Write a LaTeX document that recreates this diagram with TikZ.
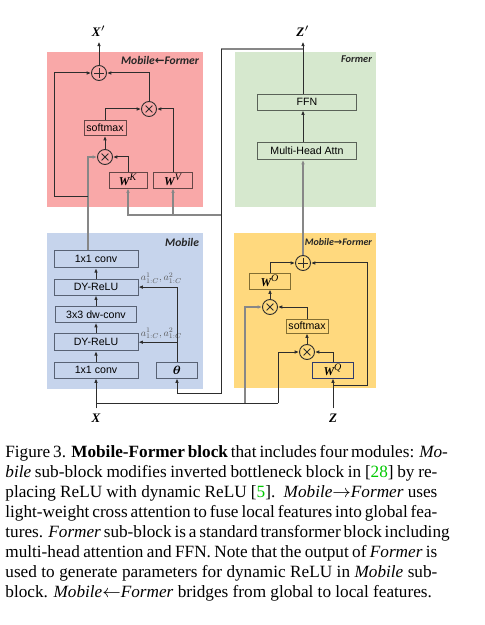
\documentclass[tikz,border=0pt]{standalone}
\usepackage{fontspec}
\usepackage{bm}
\setmainfont{Liberation Serif}
\newfontfamily\boxfont{Liberation Sans}
\newfontfamily\titlefont{Carlito}
\newfontfamily\arrowfont{DejaVu Sans}
\usetikzlibrary{arrows.meta,positioning,fit}
\definecolor{redpanel}{RGB}{249,168,168}
\definecolor{greenpanel}{RGB}{214,232,206}
\definecolor{bluepanel}{RGB}{198,212,236}
\definecolor{yellowpanel}{RGB}{255,217,126}
\definecolor{rededge}{RGB}{100,70,70}
\definecolor{greenedge}{RGB}{90,98,88}
\definecolor{blueedge}{RGB}{88,98,116}
\definecolor{yellowedge}{RGB}{130,110,50}
\definecolor{navyedge}{RGB}{47,58,110}
\definecolor{flowdark}{RGB}{45,45,45}
\definecolor{flowgray}{RGB}{135,135,135}
\definecolor{citegreen}{RGB}{0,200,0}
\newcommand{\opW}[1]{{\bfseries\itshape W}\textsuperscript{\itshape #1}}
\newcommand{\reluparams}{\scalebox{0.5}{\fontsize{10}{12}\selectfont$a^1_{1:C}, a^2_{1:C}$}}
\newcommand{\capline}[1]{\makebox[216pt][s]{#1}}
\tikzset{
  sub panel/.style={
    rectangle, fill=#1, draw=none, inner sep=0pt
  },
  panel title/.style={
    anchor=north east, inner sep=0pt, text=black!85,
    font=\titlefont\bfseries\itshape\fontsize{5.8}{6}\selectfont
  },
  module box/.style={
    rectangle, draw=#1, line width=0.45pt, inner sep=0pt,
    minimum width=20.5pt, minimum height=8pt,
    font=\boxfont\fontsize{5.3}{6}\selectfont
  },
  weight box/.style={module box=#1, font=\fontsize{6}{7}\selectfont},
  op circle/.style={
    circle, draw=flowdark, line width=0.45pt, minimum size=7.5pt, inner sep=0pt
  },
  add op/.style={op circle, path picture={
    \draw[flowdark, line width=0.45pt]
      ([xshift=-2.4pt]path picture bounding box.center) -- ([xshift=2.4pt]path picture bounding box.center)
      ([yshift=-2.4pt]path picture bounding box.center) -- ([yshift=2.4pt]path picture bounding box.center);}},
  mul op/.style={op circle, path picture={
    \draw[flowdark, line width=0.45pt]
      ([shift={(-1.7pt,-1.7pt)}]path picture bounding box.center) -- ([shift={(1.7pt,1.7pt)}]path picture bounding box.center)
      ([shift={(-1.7pt,1.7pt)}]path picture bounding box.center) -- ([shift={(1.7pt,-1.7pt)}]path picture bounding box.center);}},
  io label/.style={inner sep=2.5pt, font=\fontsize{6.5}{7}\selectfont\bfseries\itshape},
  relu param/.style={anchor=south west, inner sep=0pt, text=black!65},
  flow line/.style={draw=flowdark, line width=0.5pt},
  flow arrow/.style={flow line, -{Latex[length=2.2pt,width=1.8pt]}},
  gray line/.style={draw=flowgray, line width=0.6pt},
  gray arrow/.style={gray line, -{Latex[length=2.2pt,width=1.8pt]}},
  caption text/.style={anchor=north west, inner sep=0pt, align=left, font=\fontsize{8.6}{10}\selectfont}
}

\begin{document}
\begin{tikzpicture}[x=0.5pt, y=-0.5pt, node distance=5.2pt]
  \useasboundingbox (0,0) rectangle (485,625);

  % the four sub-blocks
  \node[sub panel=redpanel, fit={(47,52) (203,207)}] (mfpanel) {};
  \node[sub panel=greenpanel, fit={(235,52) (376,207)}] (fpanel) {};
  \node[sub panel=bluepanel, fit={(47,233) (203,389)}] (mpanel) {};
  \node[sub panel=yellowpanel, fit={(234,233) (376,388)}] (mtfpanel) {};
  \node[panel title] (mftitle) at ([xshift=-2pt,yshift=-2pt]mfpanel.north east) {Mobile{\arrowfont\bfseries ←}Former};
  \node[panel title, font=\titlefont\bfseries\itshape\fontsize{5.2}{6}\selectfont] (ftitle) at ([xshift=-2pt,yshift=-2pt]fpanel.north east) {Former};
  \node[panel title] (mtitle) at ([xshift=-2pt,yshift=-2.5pt]mpanel.north east) {Mobile};
  \node[panel title, font=\titlefont\bfseries\itshape\fontsize{5}{6}\selectfont] (mtftitle) at ([xshift=-2pt,yshift=-2.5pt]mtfpanel.north east) {Mobile{\arrowfont\bfseries →}Former};

  % Mobile <- Former
  \node[add op] (addA) at (99,73) {};
  \node[mul op] (mulA2) at (149,109) {};
  \node[module box=rededge, minimum width=21pt, minimum height=7.5pt] (smA) at (105,128) {softmax};
  \node[mul op] (mulA1) at (105,157) {};
  \node[weight box=rededge, minimum width=19pt] (wk) at (128,180) {\opW{K}};
  \node[weight box=rededge, minimum width=19.5pt] (wv) at (173,180) {\opW{V}};
  \node[io label] (Xout) at (99,31) {X$'$};

  % Former
  \node[module box=greenedge, minimum width=49.5pt] (ffn) at (307,102) {FFN};
  \node[module box=greenedge, minimum width=49.5pt, minimum height=8.5pt] (mha) at (307,151) {Multi-Head Attn};
  \node[io label] (Zout) at (303,31) {Z$'$};

  % Mobile
  \node[module box=blueedge, minimum width=42pt] (convA) at (96,370) {1x1 conv};
  \node[module box=blueedge, minimum width=42pt, minimum height=8.5pt, above=of convA] (reluA) {DY-ReLU};
  \node[module box=blueedge, minimum width=40.5pt, above=of reluA] (dwconv) {3x3 dw-conv};
  \node[module box=blueedge, minimum width=42pt, above=of dwconv] (reluB) {DY-ReLU};
  \node[module box=blueedge, minimum width=42pt, minimum height=8.5pt, above=of reluB] (convB) {1x1 conv};
  \node[weight box=blueedge] (theta) at (177,370) {$\bm{\theta}$};
  \node[relu param] (aB) at ([xshift=1pt,yshift=1.5pt]reluB.east) {\reluparams};
  \node[relu param] (aA) at ([xshift=1pt,yshift=1.5pt]reluA.east) {\reluparams};
  \node[io label] (Xin) at (96,418) {X};

  % Mobile -> Former
  \node[add op] (addB) at (303,263) {};
  \node[weight box=yellowedge] (wo) at (270,281) {\opW{O}};
  \node[mul op] (mulB2) at (270,307) {};
  \node[module box=yellowedge, minimum width=21pt, minimum height=7pt] (smB) at (307,326) {softmax};
  \node[mul op] (mulB1) at (307,352) {};
  \node[weight box=navyedge] (wq) at (333,370) {\opW{Q}};
  \node[io label] (Zin) at (333,418) {Z};

  % branch points
  \coordinate (fsplit) at (303,49);
  \coordinate (fbus) at (221,49);
  \coordinate (kvbus) at (221,215);
  \coordinate (tbus) at (221,393);
  \coordinate (mtap) at (88,197);
  \coordinate (mloop) at (54,197);
  \coordinate (xsplit) at (96,403);
  \coordinate (xbusA) at (245,403);
  \coordinate (xbusB) at (278,403);
  \coordinate (zsplit) at (333,385);
  \coordinate (zright) at (367,385);

  % Mobile
  \draw[flow arrow] (Xin) -- (convA);
  \draw[flow arrow] (convA) -- (reluA);
  \draw[flow arrow] (reluA) -- (dwconv);
  \draw[flow arrow] (dwconv) -- (reluB);
  \draw[flow arrow] (reluB) -- (convB);
  \draw[flow arrow] (theta) |- (reluB);
  \draw[flow arrow] (theta) |- (reluA);

  % Mobile -> Former
  \draw[flow line] (xsplit) -- (xbusB);
  \draw[gray arrow] (xbusA) |- (mulB2);
  \draw[flow arrow] (xbusB) |- (mulB1);
  \draw[flow arrow] (Zin) -- (wq);
  \draw[flow arrow] (zsplit) -- (zright) |- (addB);
  \draw[flow arrow] (wq) |- (mulB1);
  \draw[flow arrow] (mulB1) -- (smB);
  \draw[flow arrow] (smB) |- (mulB2);
  \draw[flow arrow] (mulB2) -- (wo);
  \draw[flow arrow] (wo) |- (addB);
  \draw[gray arrow] (addB) -- (addB |- mha.south);

  % Former
  \draw[flow arrow] (mha.north -| Zout) -- (ffn.south -| Zout);
  \draw[flow arrow] (ffn.north -| Zout) -- (Zout);
  \draw[gray line] (fsplit) -- (fbus);
  \draw[flow arrow] (fbus) -- (tbus) -| (theta);
  \draw[gray arrow] (kvbus) -| (wk);
  \draw[gray arrow] (wv |- kvbus) -- (wv);

  % Mobile <- Former
  \draw[gray arrow] (convB.north -| mtap) -- (mtap) |- (mulA1);
  \draw[flow arrow] (mtap) -- (mloop) |- (addA);
  \draw[flow arrow] (wk) |- (mulA1);
  \draw[flow arrow] (mulA1) -- (smA);
  \draw[flow arrow] (smA) |- (mulA2);
  \draw[flow arrow] (wv) |- (mulA2);
  \draw[flow arrow] (mulA2) |- (addA);
  \draw[flow arrow] (addA) -- (Xout);

  % caption
  \node[caption text] (caption) at (5,445) {%
    \capline{Figure 3. \textbf{Mobile-Former block} that includes four modules: \textit{Mo-}}\\
    \capline{\textit{bile} sub-block modifies inverted bottleneck block in [\textcolor{citegreen}{28}] by re-}\\
    \capline{placing ReLU with dynamic ReLU [\textcolor{citegreen}{5}].\ \ \textit{Mobile$\rightarrow$Former} uses}\\
    \capline{light-weight cross attention to fuse local features into global fea-}\\
    \capline{tures. \textit{Former} sub-block is a standard transformer block including}\\
    \capline{multi-head attention and FFN. Note that the output of \textit{Former} is}\\
    \capline{used to generate parameters for dynamic ReLU in \textit{Mobile} sub-}\\
    block. \textit{Mobile$\leftarrow$Former} bridges from global to local features.};
\end{tikzpicture}
\end{document}
